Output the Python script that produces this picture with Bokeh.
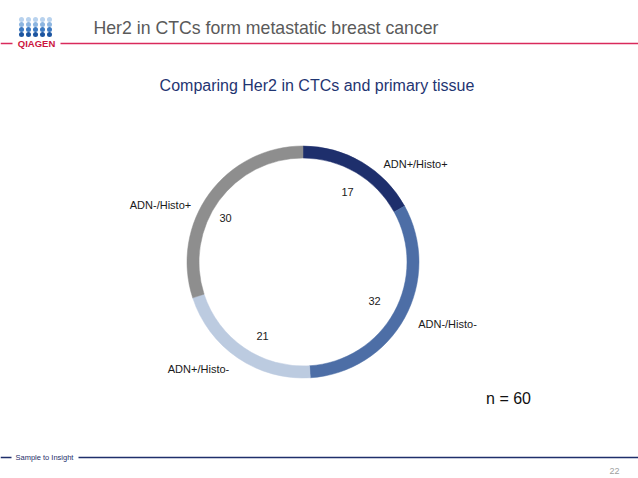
import math
from bokeh.plotting import figure
from bokeh.models import Range1d, ColumnDataSource
from bokeh.core.properties import value
from bokeh.embed import file_html
from bokeh.resources import INLINE

# ---- data ----
categories = ["ADN+/Histo+", "ADN-/Histo-", "ADN+/Histo-", "ADN-/Histo+"]
percent = [17, 32, 21, 30]
colors = ["#1e2f6c", "#4d6ea6", "#bccbe0", "#8e8e8e"]
n_total = 60
title = "Her2 in CTCs form metastatic breast cancer"
subtitle = "Comparing Her2 in CTCs and primary tissue"
footer = "Sample to Insight"
page_no = "22"

# ---- layout constants (reference pixel coords) ----
W, H = 638, 478
def Y(y):
    return H - y

CX, CY = 302.5, 261.5
R_OUT, R_IN = 116, 104
value_pos = [(347, 191), (374, 300), (262, 335), (225, 217)]
cat_pos = [(415, 163), (447, 323), (198, 368), (160, 204)]

FONT = value("Liberation Sans")

p = figure(width=W, height=H, x_range=Range1d(0, W), y_range=Range1d(0, H),
           output_backend="svg", toolbar_location=None, min_border=0)
p.axis.visible = False
p.grid.visible = False
p.outline_line_color = None
p.background_fill_color = "white"
p.border_fill_color = "white"

# ---- ring ----
total = sum(percent)
starts, ends = [], []
acc = 0
for v in percent:
    starts.append(math.pi / 2 - 2 * math.pi * acc / total)
    acc += v
    ends.append(math.pi / 2 - 2 * math.pi * acc / total)
src = ColumnDataSource(dict(start=starts, end=ends, color=colors))
p.annular_wedge(x=CX, y=Y(CY), inner_radius=R_IN, outer_radius=R_OUT,
                start_angle="start", end_angle="end", direction="clock",
                fill_color="color", line_color="color", line_width=0.5, source=src)

# value labels
p.text(x=[q[0] for q in value_pos], y=[Y(q[1]) for q in value_pos],
       text=[str(v) for v in percent], text_font=FONT, text_font_size="11px",
       text_color="#1a1a1a", text_align="center", text_baseline="middle")
# category labels
p.text(x=[q[0] for q in cat_pos], y=[Y(q[1]) for q in cat_pos],
       text=categories, text_font=FONT, text_font_size="11px",
       text_color="#1a1a1a", text_align="center", text_baseline="middle")

# n label
p.text(x=[508], y=[Y(398)], text=[f"n = {n_total}"], text_font=FONT,
       text_font_size="16px", text_color="#111111", text_align="center",
       text_baseline="middle")

# ---- header ----
p.text(x=[93], y=[Y(27)], text=[title], text_font=FONT, text_font_size="17.7px",
       text_color="#5a5a5a", text_align="left", text_baseline="middle")
p.segment(x0=[0, 60], y0=[Y(43), Y(43)], x1=[12, 638], y1=[Y(43), Y(43)],
          line_color="#d92a5c", line_width=1.5)
p.text(x=[316.5], y=[Y(85)], text=[subtitle], text_font=FONT, text_font_size="16px",
       text_color="#1f3572", text_align="center", text_baseline="middle")

# logo dots
row_colors = ["#b8d2ee", "#8cb5e0", "#3b78c0", "#1c55a0"]
lx, ly, lc = [], [], []
for r, c in enumerate(row_colors):
    for k in range(5):
        lx.append(21 + 7 * k)
        ly.append(Y(19 + 5 * r))
        lc.append(c)
p.scatter(x=lx, y=ly, size=5, fill_color=lc, line_color=None)
p.text(x=[36], y=[Y(43)], text=["QIAGEN"], text_font=FONT, text_font_size="9.5px",
       text_font_style="bold", text_color="#cc1540", text_align="center",
       text_baseline="middle")

# ---- footer ----
p.segment(x0=[0, 78], y0=[Y(457), Y(457)], x1=[11, 638], y1=[Y(457), Y(457)],
          line_color="#1f2f6b", line_width=1.5)
p.text(x=[15], y=[Y(457)], text=[footer], text_font=FONT, text_font_size="7.5px",
       text_color="#1f2f6b", text_align="left", text_baseline="middle")
p.text(x=[614], y=[Y(470)], text=[page_no], text_font=FONT, text_font_size="9px",
       text_color="#a0a0a0", text_align="center", text_baseline="middle")

open("out.html", "w").write(file_html(p, INLINE))
